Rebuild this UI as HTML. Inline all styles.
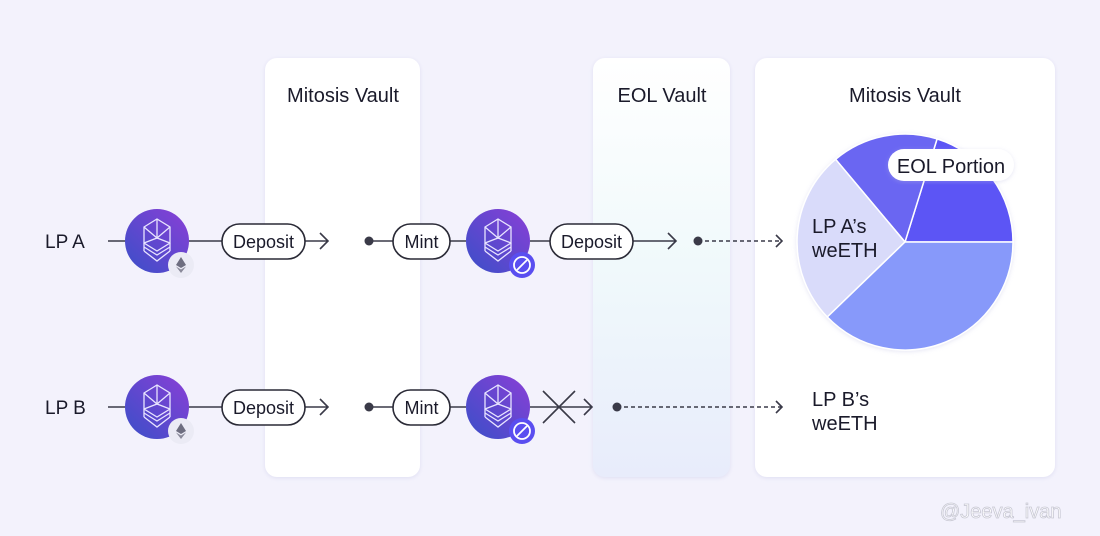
<!DOCTYPE html>
<html><head><style>
html,body{margin:0;padding:0;background:#f3f2fc;}
svg{display:block;font-family:"Liberation Sans",sans-serif;}
</style></head><body>
<svg width="1100" height="536" viewBox="0 0 1100 536" xmlns="http://www.w3.org/2000/svg">
<defs>
<linearGradient id="eol" x1="0" y1="0" x2="0" y2="1">
<stop offset="0" stop-color="#ffffff"/><stop offset="0.5" stop-color="#f0f9fb"/><stop offset="1" stop-color="#e8ecfb"/>
</linearGradient>
<linearGradient id="tok" x1="0" y1="1" x2="1" y2="0">
<stop offset="0" stop-color="#3a4fc8"/><stop offset="1" stop-color="#8a3fd6"/>
</linearGradient>
<filter id="sh" x="-10%" y="-10%" width="120%" height="120%"><feDropShadow dx="0" dy="1" stdDeviation="2" flood-color="#b8b8e0" flood-opacity="0.35"/></filter>
<g id="tk">
<circle r="32" fill="url(#tok)"/>
<g fill="none" stroke="#e8e4ff" stroke-width="1.3">
<path d="M-13,-14 L0,-22 L13,-14 L13,2 L0,10 L-13,2 Z"/>
<path d="M-13,-14 L0,-3 L13,-14 M0,-22 L0,-3 M-13,2 L0,-3 L13,2"/>
<path d="M-13,6 L0,14 L13,6 M-13,10 L0,20 L13,10 M-13,2 L-13,10 M13,2 L13,10"/>
</g>
</g>
<g id="eth"><circle r="13" fill="#ebebf5"/><path d="M0,-8 L5,0 L0,3 L-5,0 Z" fill="#6e6e80"/><path d="M0,4.5 L5,1.5 L0,8 L-5,1.5 Z" fill="#8a8a9a"/></g>
<g id="mi"><circle r="13" fill="#5a4ef0"/><circle r="8" fill="none" stroke="#fff" stroke-width="1.8"/><path d="M-5,5 L5,-5" stroke="#fff" stroke-width="1.8"/></g>
</defs>

<rect x="265" y="58" width="155" height="419" rx="12" fill="#fff" filter="url(#sh)"/>
<rect x="593" y="58" width="137" height="419" rx="12" fill="url(#eol)" filter="url(#sh)"/>
<rect x="755" y="58" width="300" height="419" rx="12" fill="#fff" filter="url(#sh)"/>

<g font-size="20" fill="#1a1a2a" text-anchor="middle">
<text x="343" y="102">Mitosis Vault</text>
<text x="662" y="102">EOL Vault</text>
<text x="905" y="102">Mitosis Vault</text>
</g>

<!-- pie -->
<g stroke="#fff" stroke-width="1.5" filter="url(#sh)">
<path d="M905,242 L1013,242 A108,108 0 0 0 937.1,138.9 Z" fill="#5b55f5"/>
<path d="M905,242 L937.1,138.9 A108,108 0 0 0 835.6,159.3 Z" fill="#6a66f2"/>
<path d="M905,242 L835.6,159.3 A108,108 0 0 0 827.3,317 Z" fill="#d9dbfa"/>
<path d="M905,242 L827.3,317 A108,108 0 0 0 1013,242 Z" fill="#8799fa"/>
</g>
<rect x="888" y="149" width="126" height="32" rx="16" fill="#fff" filter="url(#sh)"/>
<text x="951" y="173" font-size="20" fill="#1a1a2a" text-anchor="middle">EOL Portion</text>
<text x="812" y="233" font-size="20" fill="#1a1a2a">LP A’s</text>
<text x="812" y="257" font-size="20" fill="#1a1a2a">weETH</text>
<text x="812" y="406" font-size="20" fill="#1a1a2a">LP B’s</text>
<text x="812" y="430" font-size="20" fill="#1a1a2a">weETH</text>

<g font-size="19" fill="#1a1a2a">
<text x="45" y="248">LP A</text>
<text x="45" y="414">LP B</text>
</g>

<g stroke="#3a3a48" stroke-width="1.6" fill="none">
<path d="M108,241 H222 M305,241 H328 M320,233 L328,241 L320,249"/>
<path d="M369,241 H393 M450,241 H466 M530,241 H550 M633,241 H676 M668,233 L676,241 L668,249"/>
<path d="M698,241 H782" stroke-dasharray="4 3"/><path d="M776,235 L782,241 L776,247"/>
<path d="M108,407 H222 M305,407 H328 M320,399 L328,407 L320,415"/>
<path d="M369,407 H393 M450,407 H466 M530,407 H592 M584,399 L592,407 L584,415"/>
<path d="M543,391 L575,423 M575,391 L543,423"/>
<path d="M617,407 H782" stroke-dasharray="4 3"/><path d="M776,401 L782,407 L776,413"/>
</g>
<g fill="#3a3a48"><circle cx="369" cy="241" r="4.5"/><circle cx="698" cy="241" r="4.5"/><circle cx="369" cy="407" r="4.5"/><circle cx="617" cy="407" r="4.5"/></g>

<g fill="#fff" stroke="#2a2a36" stroke-width="1.6">
<rect x="222" y="224" width="83" height="35" rx="17.5"/>
<rect x="393" y="224" width="57" height="35" rx="17.5"/>
<rect x="550" y="224" width="83" height="35" rx="17.5"/>
<rect x="222" y="390" width="83" height="35" rx="17.5"/>
<rect x="393" y="390" width="57" height="35" rx="17.5"/>
</g>
<g font-size="18" fill="#1a1a2a" text-anchor="middle">
<text x="263.5" y="248">Deposit</text><text x="421.5" y="248">Mint</text><text x="591.5" y="248">Deposit</text>
<text x="263.5" y="414">Deposit</text><text x="421.5" y="414">Mint</text>
</g>

<use href="#tk" x="157" y="241"/><use href="#eth" x="181" y="265"/>
<use href="#tk" x="157" y="407"/><use href="#eth" x="181" y="431"/>
<use href="#tk" x="498" y="241"/><use href="#mi" x="522" y="265"/>
<use href="#tk" x="498" y="407"/><use href="#mi" x="522" y="431"/>

<text x="940" y="518" font-size="20" fill="#ffffff" stroke="#c8c8d4" stroke-width="0.8">@Jeeva_ivan</text>
</svg>
</body></html>
